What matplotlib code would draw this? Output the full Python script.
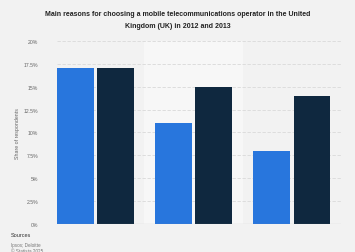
import matplotlib
matplotlib.use("Agg")
import matplotlib.pyplot as plt
import numpy as np

# values (share of respondents, %)
groups = ["", "", ""]
share_2012 = [17.0, 11.0, 8.0]
share_2013 = [17.0, 15.0, 14.0]
yticks = [0, 2.5, 5, 7.5, 10, 12.5, 15, 17.5, 20]
ytick_labels = ["0%", "2.5%", "5%", "7.5%", "10%", "12.5%", "15%", "17.5%", "20%"]

plt.rcParams["font.family"] = ["Liberation Sans", "DejaVu Sans"]

bg = "#f2f2f2"
fig = plt.figure(figsize=(3.55, 2.53), dpi=100, facecolor=bg)
ax = fig.add_axes([0.1606, 0.1107, 0.8, 0.7233], facecolor=bg)

x = np.arange(len(groups))
w = 0.375
off = 0.205

# lighter band behind the middle group
ax.axvspan(0.5, 1.5, color="#f7f7f7", zorder=0, lw=0)

ax.bar(x - off, share_2012, w, color="#2876dd", zorder=3, label="2012")
ax.bar(x + off, share_2013, w, color="#0f283f", zorder=3, label="2013")

ax.set_xlim(-0.39, 2.5)
ax.set_ylim(0, 20)
ax.set_yticks(yticks)
ax.set_yticklabels(ytick_labels)
ax.set_xticks([])
ax.tick_params(axis="y", length=0, labelsize=3.7, colors="#666666", pad=13.5)
ax.yaxis.grid(True, color="#d9d9d9", linestyle=(0, (4, 2)), linewidth=0.6, zorder=1)
for s in ax.spines.values():
    s.set_visible(False)
ax.axhline(0, color="#999999", linewidth=0.8, zorder=4)

ax.set_ylabel("Share of respondents", fontsize=3.8, color="#666666")
ax.yaxis.set_label_coords(-0.13, 0.5)

fig.text(0.5, 0.92, "Main reasons for choosing a mobile telecommunications operator in the United\nKingdom (UK) in 2012 and 2013",
         ha="center", va="center", fontsize=5, fontweight="bold", color="#222222", linespacing=2.0)

fig.text(0.03, 0.068, "Sources", fontsize=4, color="#333333", va="center")
fig.text(0.03, 0.04, "Ipsos; Deloitte\n© Statista 2025", fontsize=3.3, color="#777777", va="top", linespacing=1.4)

fig.savefig("out.png", dpi=100, facecolor=bg)
